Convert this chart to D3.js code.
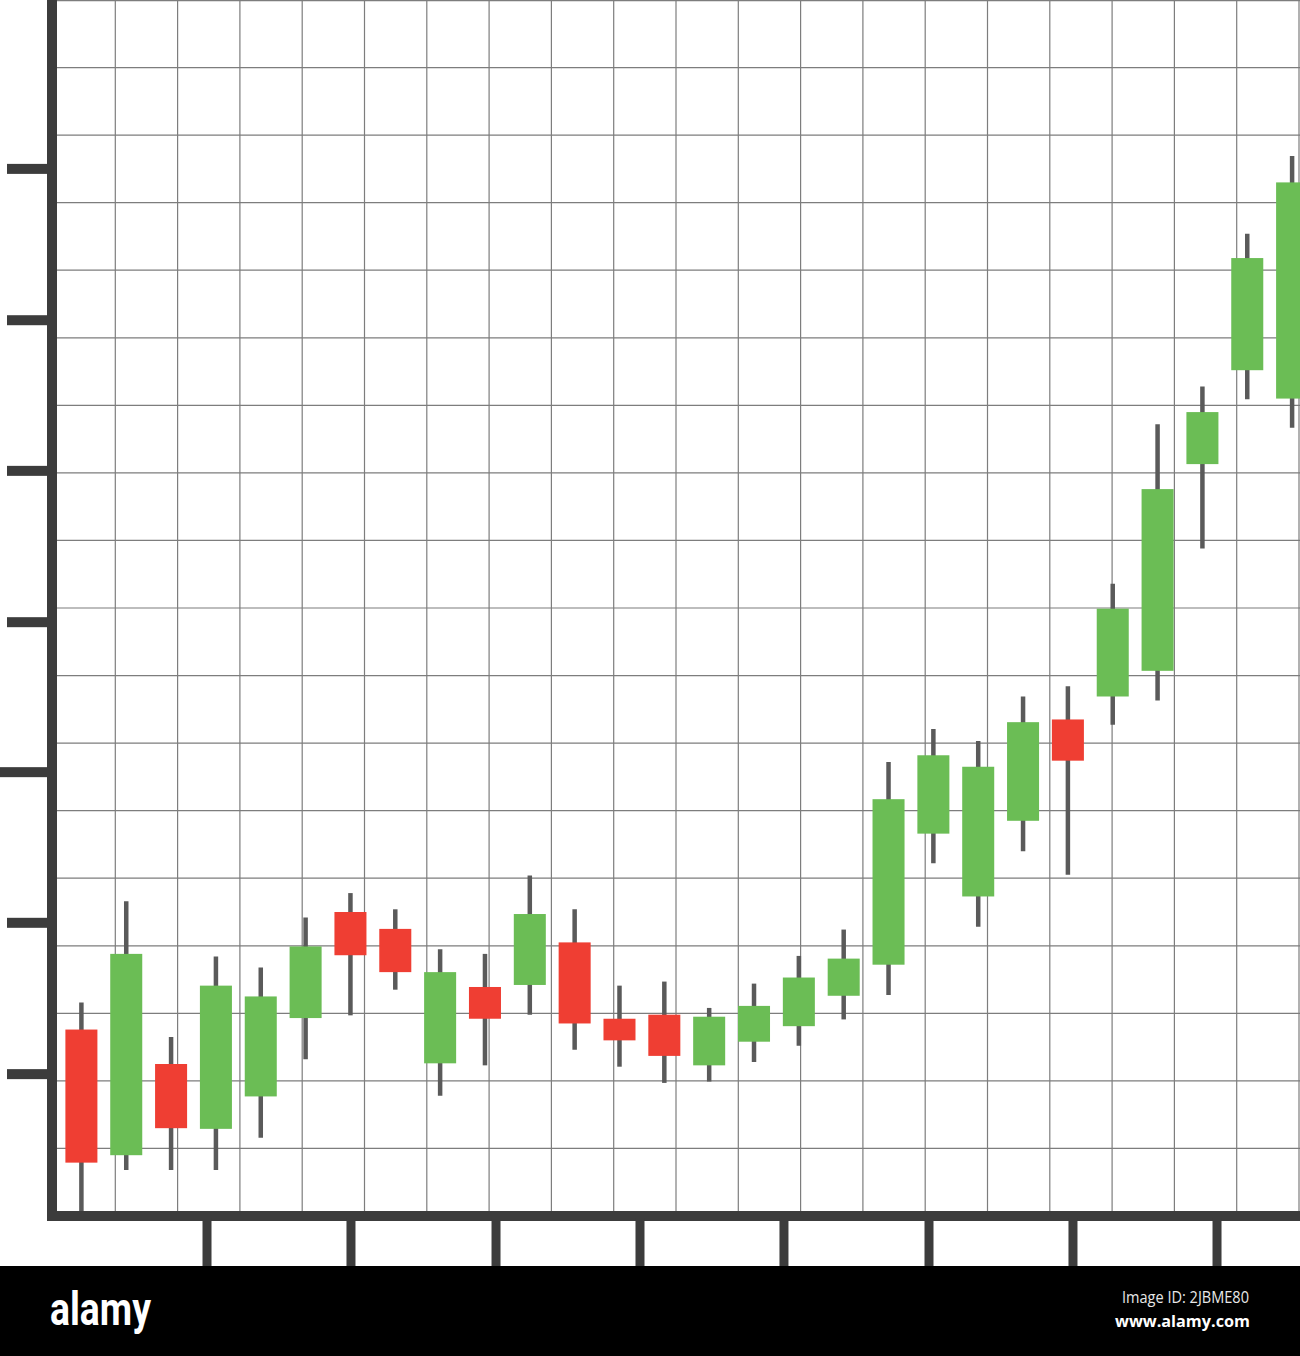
<!DOCTYPE html>
<html>
<head>
<meta charset="utf-8">
<script src="https://cdn.jsdelivr.net/npm/d3@7/dist/d3.min.js"></script>
<style>
  html, body { margin: 0; padding: 0; background: #ffffff; }
  svg { display: block; }
</style>
</head>
<body>
<svg id="chart" width="1300" height="1356"></svg>
<script>
// ---- Data ----
const candleIndex = d3.range(28);
const openValues  = [27.6, 9.0, 22.5, 12.9, 17.7, 29.3, 45.0, 42.5, 22.6, 33.9, 34.2, 40.5, 29.2, 29.8, 22.3, 25.8, 28.1, 32.6, 37.2, 56.6, 47.3, 58.5, 73.5, 76.9, 80.7, 111.3, 125.2, 121.0];
const closeValues = [7.9, 38.8, 13.0, 34.1, 32.5, 39.9, 38.6, 36.1, 36.1, 29.2, 44.7, 28.5, 26.0, 23.7, 29.5, 31.1, 35.3, 38.1, 61.7, 68.2, 66.5, 73.1, 67.4, 89.9, 107.6, 119.0, 141.8, 153.0];
const highValues  = [31.6, 46.6, 26.5, 38.4, 36.8, 44.2, 47.8, 45.4, 39.5, 38.8, 50.4, 45.4, 34.1, 34.7, 30.8, 34.4, 38.5, 42.4, 67.2, 72.1, 70.3, 76.9, 78.4, 93.6, 117.2, 122.8, 145.4, 156.9];
const lowValues   = [0.3, 6.8, 6.8, 6.8, 11.6, 23.2, 29.7, 33.5, 17.8, 22.3, 29.8, 24.6, 22.1, 19.7, 19.9, 22.8, 25.2, 29.1, 32.7, 52.2, 42.8, 54.0, 50.5, 72.7, 76.3, 98.8, 120.9, 116.7];

const gridRows = d3.range(0, 181, 10);          // horizontal grid values
const gridCols = d3.range(0, 21, 1);            // vertical grid columns
const yTickValues = [21.0, 43.4, 65.7, 87.9, 110.3, 132.6, 155.0];
const yLongTick = 65.7;
const xTickValues = [2.472, 4.783, 7.111, 9.422, 11.733, 14.061, 16.372, 18.684];

// ---- Scales ----
const W = 1300, H = 1356;
const plotBottom = 1216, plotTop = 0;
const y = d3.scaleLinear().domain([0, 180]).range([plotBottom, plotTop]);
const x = d3.scaleLinear().domain([0, 27]).range([81.4, 1292.1]);
const gx = d3.scaleLinear().domain([0, 20]).range([53, 1299]);

const svg = d3.select("#chart");
svg.append("rect").attr("width", W).attr("height", H).attr("fill", "#ffffff");

const plot = svg.append("g");
plot.append("clipPath").attr("id", "clip").append("rect")
  .attr("x", 0).attr("y", 0).attr("width", W).attr("height", plotBottom + 5);

// ---- Grid ----
const grid = plot.append("g").attr("stroke", "#7d7d7d").attr("stroke-width", 1.2);
grid.selectAll("line.h").data(gridRows).join("line").attr("class", "h")
  .attr("x1", 52).attr("x2", W)
  .attr("y1", d => Math.max(0.6, y(d))).attr("y2", d => Math.max(0.6, y(d)));
grid.selectAll("line.v").data(gridCols).join("line").attr("class", "v")
  .attr("x1", d => gx(d)).attr("x2", d => gx(d))
  .attr("y1", 0).attr("y2", plotBottom);

// ---- Candles ----
const step = x(1) - x(0);
const bodyW = step * 0.714;
const candles = plot.append("g").attr("clip-path", "url(#clip)");
const data = candleIndex.map(i => ({
  i, o: openValues[i], c: closeValues[i], h: highValues[i], l: lowValues[i]
}));

candles.selectAll("line.wick").data(data).join("line").attr("class", "wick")
  .attr("x1", d => x(d.i)).attr("x2", d => x(d.i))
  .attr("y1", d => y(d.h)).attr("y2", d => y(d.l))
  .attr("stroke", "#5a5a5a").attr("stroke-width", 4.5);

candles.selectAll("rect.body").data(data).join("rect").attr("class", "body")
  .attr("x", d => x(d.i) - bodyW / 2)
  .attr("width", bodyW)
  .attr("y", d => y(Math.max(d.o, d.c)))
  .attr("height", d => Math.abs(y(d.o) - y(d.c)))
  .attr("fill", d => d.c >= d.o ? "#6bbd55" : "#ef3e33");

// ---- Axes ----
const axisColor = "#3c3c3c";
const axes = svg.append("g").attr("fill", axisColor);
// y axis line
axes.append("rect").attr("x", 47).attr("y", 0).attr("width", 10).attr("height", 1221);
// x axis line
axes.append("rect").attr("x", 47).attr("y", 1211).attr("width", W - 47).attr("height", 10);
// y ticks
axes.selectAll("rect.yt").data(yTickValues).join("rect").attr("class", "yt")
  .attr("x", d => d === yLongTick ? 0 : 7)
  .attr("width", d => d === yLongTick ? 50 : 43)
  .attr("y", d => y(d) - 5).attr("height", 10);
// x ticks
axes.selectAll("rect.xt").data(xTickValues).join("rect").attr("class", "xt")
  .attr("x", d => gx(d) - 4.5).attr("width", 9)
  .attr("y", 1218).attr("height", 50);

// ---- Bottom banner ----
svg.append("rect").attr("x", 0).attr("y", 1266).attr("width", W).attr("height", H - 1266).attr("fill", "#000000");
svg.append("text").attr("x", 50).attr("y", 1325)
  .attr("font-family", "'Liberation Sans Narrow', 'Arial Narrow', 'Roboto', sans-serif")
  .attr("font-weight", "bold").attr("font-size", 46)
  .attr("textLength", 101).attr("lengthAdjust", "spacingAndGlyphs")
  .attr("fill", "#ffffff").text("alamy");
svg.append("text").attr("x", 1249).attr("y", 1303).attr("text-anchor", "end")
  .attr("font-family", "'Open Sans', 'Noto Sans', sans-serif").attr("font-size", 15.5)
  .attr("textLength", 127).attr("lengthAdjust", "spacingAndGlyphs")
  .attr("fill", "#e8e8e8").text("Image ID: 2JBME80");
svg.append("text").attr("x", 1250).attr("y", 1327).attr("text-anchor", "end")
  .attr("font-family", "'Open Sans', 'Noto Sans', sans-serif").attr("font-weight", "bold").attr("font-size", 16.5)
  .attr("textLength", 135).attr("lengthAdjust", "spacingAndGlyphs")
  .attr("fill", "#ffffff").text("www.alamy.com");
</script>
</body>
</html>
